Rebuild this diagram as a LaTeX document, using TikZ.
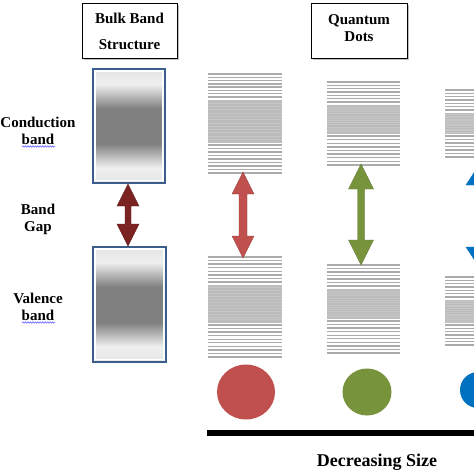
\documentclass[tikz,border=0pt]{standalone}
\usepackage{fontspec}
\setmainfont{Liberation Serif}
\usetikzlibrary{decorations.pathmorphing}
\definecolor{bandblue}{HTML}{3B5E8C}
\definecolor{arrdark}{HTML}{7B2323}
\definecolor{arrdarkedge}{HTML}{5A1515}
\definecolor{qred}{HTML}{C0504D}
\definecolor{qgreen}{HTML}{77933C}
\definecolor{qblue}{HTML}{0070C0}
\definecolor{linegray}{HTML}{ABABAB}
\definecolor{densegray}{HTML}{BCBCBC}
\definecolor{denseline}{HTML}{C6C6C6}
\pgfdeclareverticalshading{bulkshade}{100bp}{
  color(0bp)=(white!80!gray); color(25bp)=(white!80!gray); color(31bp)=(white!88!gray);
  color(42bp)=(gray); color(58bp)=(gray);
  color(69bp)=(white!88!gray); color(75bp)=(white!80!gray); color(100bp)=(white!80!gray)}
\tikzset{
  lbl/.style={font=\bfseries\fontsize{15}{17}\selectfont, align=center, inner sep=0pt},
  titlebox/.style={draw=black, line width=0.8pt, fill=white},
  bl/.style={draw=linegray, line width=1.3pt},
  spell/.style={draw=blue!70, line width=0.5pt, decorate, decoration={snake, amplitude=0.7pt, segment length=2.5pt}}
}
\newcommand\sparselines[5]{%
  \foreach \i in {0,...,#5} {\draw[bl] (#1,{#3+(#4-#3)*\i/#5}) -- (#2,{#3+(#4-#3)*\i/#5});}}
\newcommand\denseblock[4]{%
  \fill[densegray] (#1,#3) rectangle (#2,#4);
  \foreach \i in {1,...,12} {\draw[denseline, line width=0.3pt] (#1,{#3+(#4-#3)*\i/13}) -- (#2,{#3+(#4-#3)*\i/13});}}
\newcommand\dblarrow[8]{% x, ytop, ybot, headw, shaftw, headh, fill, edge
  \filldraw[fill=#7, draw=#8, line width=0.4pt]
    (#1,#2) -- ({#1+#4/2},{#2+#6}) -- ({#1+#5/2},{#2+#6}) -- ({#1+#5/2},{#3-#6})
    -- ({#1+#4/2},{#3-#6}) -- (#1,#3) -- ({#1-#4/2},{#3-#6}) -- ({#1-#5/2},{#3-#6})
    -- ({#1-#5/2},{#2+#6}) -- ({#1-#4/2},{#2+#6}) -- cycle;}
\begin{document}
\begin{tikzpicture}[x=1pt,y=-1pt]
\useasboundingbox (0,0) rectangle (474,474);
\clip (0,0) rectangle (474,474);
\fill[white] (0,0) rectangle (474,474);

% title boxes
\fill[gray!50] (84,5) rectangle (179,60);
\draw[titlebox] (82,3) rectangle (177,58);
\node[lbl] (bulk) at (129.5,31) {Bulk Band\\[9pt]Structure};
\fill[gray!50] (313,5) rectangle (409,60);
\draw[titlebox] (311,3) rectangle (407,58);
\node[lbl] (qd) at (359,28) {Quantum\\Dots};

% left labels
\node[lbl] (cb) at (38,131) {Conduction\\band};
\draw[spell] (22,146.5) -- (55,146.5);
\node[lbl] (bg) at (38,219) {Band\\Gap};
\node[lbl] (vb) at (38,307) {Valence\\band};
\draw[spell] (22,322.5) -- (55,322.5);

% bulk bands
\shade[shading=bulkshade] (95,71) rectangle (163,181);
\draw[bandblue, line width=2.2pt] (93,69) rectangle (165,183);
\draw[white, line width=1pt] (95.5,71.5) rectangle (162.5,180.5);
\shade[shading=bulkshade] (95,249) rectangle (164,360);
\draw[bandblue, line width=2.2pt] (93,247) rectangle (166,362);
\draw[white, line width=1pt] (95.5,249.5) rectangle (163.5,359.5);

\dblarrow{128}{184}{246}{22}{6}{22}{arrdark}{arrdarkedge}

% column 1
\sparselines{208}{282}{74}{97}{7}
\denseblock{208}{282}{99.5}{142.5}
\sparselines{208}{282}{145}{173}{8}
\sparselines{208}{282}{257}{282}{7}
\denseblock{208}{282}{284.5}{322.5}
\sparselines{208}{282}{325}{357}{9}
\dblarrow{243}{172}{258}{22}{8}{22}{qred}{qred!80!black}

% column 2
\sparselines{327}{400}{82}{102}{6}
\denseblock{327}{400}{104.5}{133.5}
\sparselines{327}{400}{136}{165}{8}
\sparselines{327}{400}{265}{286}{6}
\denseblock{327}{400}{288.5}{318.5}
\sparselines{327}{400}{321}{353}{9}
\dblarrow{361}{164}{265}{25}{7}{25}{qgreen}{qgreen!80!black}

% column 3
\sparselines{445}{490}{90}{110}{6}
\denseblock{445}{490}{112.5}{133.5}
\sparselines{445}{490}{136}{157}{6}
\sparselines{445}{490}{277}{297}{6}
\denseblock{445}{490}{299.5}{322.5}
\sparselines{445}{490}{325}{345}{6}
\dblarrow{479}{165}{267}{26}{8}{20}{qblue}{qblue}

% dots
\fill[qred] (246,392) ellipse [x radius=29, y radius=27.5];
\fill[qgreen] (367,392) ellipse [x radius=24.5, y radius=23.5];
\fill[qblue] (478,390) circle [radius=18];

% size bar
\fill[black] (207,430) rectangle (474,436);
\node[font=\bfseries\fontsize{18}{20}\selectfont, inner sep=0pt] (ds) at (377,462) {Decreasing Size};
\end{tikzpicture}
\end{document}
